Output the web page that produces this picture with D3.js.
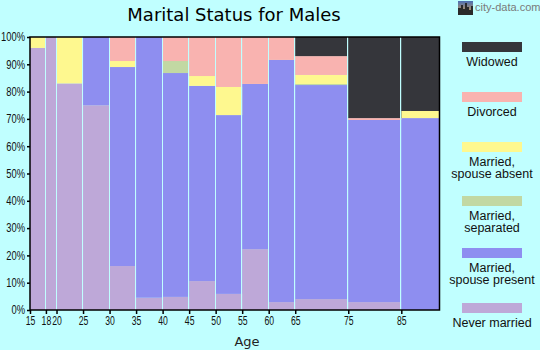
<!DOCTYPE html>
<html>
<head>
<meta charset="utf-8">
<script src="https://cdn.jsdelivr.net/npm/d3@7/dist/d3.min.js"></script>
<style>
  html, body { margin: 0; padding: 0; background: #c0ffff; }
  svg { display: block; }
</style>
</head>
<body>
<svg id="chart" width="540" height="350"></svg>
<script>
// Age group boundaries (years); each bar spans one interval
const ageEdges = [15, 18, 20, 25, 30, 35, 40, 45, 50, 55, 60, 65, 75, 85, 92.2];
const ageTicks = [15, 18, 20, 25, 30, 35, 40, 45, 50, 55, 60, 65, 75, 85];

// Share of males in each status, percent, per age group
const neverMarried  = [96, 100, 83, 75, 16.1, 4.5, 4.8, 10.6, 5.9, 22.3, 2.9, 4.0, 2.9, 0];
const spousePresent = [0, 0, 0, 25, 72.9, 95.5, 82.0, 71.5, 65.5, 60.5, 88.7, 78.4, 66.7, 70.3];
const separated     = [0, 0, 0, 0, 0, 0, 4.4, 0, 0, 0, 0, 0.4, 0, 0];
const spouseAbsent  = [4, 0, 17, 0, 2.2, 0, 0, 3.6, 10.3, 0, 0, 3.3, 0, 2.6];
const divorced      = [0, 0, 0, 0, 8.8, 0, 8.8, 14.3, 18.3, 17.2, 8.4, 6.9, 0.7, 0];
const widowed       = [0, 0, 0, 0, 0, 0, 0, 0, 0, 0, 0, 7.0, 29.7, 27.1];

const seriesKeys   = ["never", "present", "separated", "absent", "divorced", "widowed"];
const seriesLabels = [["Never married"], ["Married,", "spouse present"], ["Married,", "separated"],
                      ["Married,", "spouse absent"], ["Divorced"], ["Widowed"]];
const seriesColors = ["#bea8d8", "#8e8ef0", "#c2d8a3", "#fef88f", "#f9b3b0", "#35363b"];
const yTicks = [0, 10, 20, 30, 40, 50, 60, 70, 80, 90, 100];

const rows = ageEdges.slice(0, -1).map((a, i) => ({
  start: a, end: ageEdges[i + 1],
  never: neverMarried[i], present: spousePresent[i], separated: separated[i],
  absent: spouseAbsent[i], divorced: divorced[i], widowed: widowed[i]
}));

const svg = d3.select("#chart");
const bg = "#c0ffff";
const plotLeft = 30, plotRight = 439.5, plotTop = 37, plotBottom = 310;

const x = d3.scaleLinear().domain([15, 92.2]).range([plotLeft, plotRight]);
const y = d3.scaleLinear().domain([0, 100]).range([plotBottom, plotTop]);
const color = d3.scaleOrdinal().domain(seriesKeys).range(seriesColors);

const stacked = d3.stack().keys(seriesKeys)(rows);

// Stacked segments
svg.append("g").selectAll("g").data(stacked).join("g")
  .attr("fill", s => color(s.key))
  .selectAll("rect").data(s => s).join("rect")
  .attr("x", d => x(d.data.start))
  .attr("width", d => x(d.data.end) - x(d.data.start))
  .attr("y", d => y(d[1]))
  .attr("height", d => Math.max(0, y(d[0]) - y(d[1])));

// Thin separators between age groups
svg.append("g").selectAll("line").data(ageEdges.slice(1, -1)).join("line")
  .attr("x1", d => Math.round(x(d)) - 0.5).attr("x2", d => Math.round(x(d)) - 0.5)
  .attr("y1", plotTop).attr("y2", plotBottom)
  .attr("stroke", bg).attr("stroke-width", 1);

// Frame
svg.append("rect")
  .attr("x", plotLeft).attr("y", plotTop)
  .attr("width", plotRight - plotLeft).attr("height", plotBottom - plotTop)
  .attr("fill", "none").attr("stroke", "#000").attr("stroke-width", 1.5);

const tickFont = "'Liberation Sans', Arial, sans-serif";

// Narrow the tick labels horizontally, like a condensed face
function condense(sel, factor) {
  sel.each(function () {
    const w = this.getComputedTextLength();
    d3.select(this).attr("textLength", w * factor).attr("lengthAdjust", "spacingAndGlyphs");
  });
}

// Y axis
const yAxis = svg.append("g").attr("transform", `translate(${plotLeft},0)`)
  .call(d3.axisLeft(y).tickValues(yTicks).tickFormat(d => d + "%").tickSize(3).tickPadding(2));
yAxis.select(".domain").remove();
yAxis.selectAll("line").attr("stroke", "#000").attr("stroke-width", 1.5);
yAxis.selectAll("text").attr("font-family", tickFont).attr("font-size", 12).attr("fill", "#111")
  .call(condense, 0.78);

// X axis
const xAxis = svg.append("g").attr("transform", `translate(0,${plotBottom})`)
  .call(d3.axisBottom(x).tickValues(ageTicks).tickFormat(d3.format("d")).tickSize(4).tickPadding(2));
xAxis.select(".domain").remove();
xAxis.selectAll("line").attr("stroke", "#000").attr("stroke-width", 1.5);
xAxis.selectAll("text").attr("font-family", tickFont).attr("font-size", 12).attr("fill", "#111")
  .call(condense, 0.72);

// Axis title
svg.append("text")
  .attr("x", 247).attr("y", 346)
  .attr("text-anchor", "middle")
  .attr("font-family", "'DejaVu Sans', Verdana, sans-serif")
  .attr("font-size", 13).attr("fill", "#222")
  .text("Age");

// Chart title
svg.append("text")
  .attr("x", 234).attr("y", 21)
  .attr("text-anchor", "middle")
  .attr("font-family", "'DejaVu Sans', Verdana, sans-serif")
  .attr("font-size", 18).attr("fill", "#000")
  .text("Marital Status for Males");

// Legend, top to bottom from widowed down to never married
const legendTops = [42, 92, 142, 196, 248, 303];
const legendOrder = seriesKeys.map((k, i) => i).reverse();
const legend = svg.append("g").selectAll("g").data(legendOrder).join("g")
  .attr("transform", (d, i) => `translate(492,${legendTops[i]})`);
legend.append("rect")
  .attr("x", -30).attr("y", 0).attr("width", 60).attr("height", 10)
  .attr("fill", d => seriesColors[d]);
legend.each(function (d) {
  const lines = seriesLabels[d];
  d3.select(this).selectAll("text").data(lines).join("text")
    .attr("x", 0).attr("y", (t, j) => 23.5 + j * 12.5)
    .attr("text-anchor", "middle")
    .attr("font-family", "'Liberation Sans', Arial, sans-serif")
    .attr("font-size", 12.5).attr("fill", "#111")
    .text(t => t);
});

// Site mark in the corner
const mark = svg.append("g").attr("transform", "translate(458,1)");
const grad = svg.append("defs").append("linearGradient")
  .attr("id", "sky").attr("x1", 0).attr("y1", 0).attr("x2", 0).attr("y2", 1);
grad.append("stop").attr("offset", "0%").attr("stop-color", "#4a6fb5");
grad.append("stop").attr("offset", "100%").attr("stop-color", "#e0a040");
mark.append("rect").attr("width", 15).attr("height", 14).attr("fill", "url(#sky)");
mark.append("path")
  .attr("d", "M0,14 V7 H3 V4 H5 V8 H7 V2 H9 V6 H11 V9 H13 V5 H15 V14 Z")
  .attr("fill", "#2a2a2a");
svg.append("text")
  .attr("x", 475).attr("y", 11)
  .attr("font-family", "'Liberation Sans', Arial, sans-serif")
  .attr("font-size", 11).attr("fill", "#7a7a7a")
  .text("city-data.com");
</script>
</body>
</html>
